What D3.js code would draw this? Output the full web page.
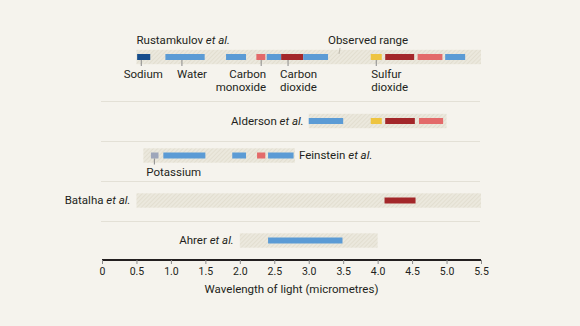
<!DOCTYPE html>
<html lang="en">
<head>
  <meta charset="utf-8">
  <title>Observed wavelength ranges</title>
  <script src="https://d3js.org/d3.v7.min.js"></script>
  <style>
    body { margin: 0; background: #f5f3ed; }
    svg { display: block; font-family: Roboto, "Noto Sans", sans-serif; }
    .lbl { font-size: 11.5px; fill: #231f20; }
    .tick text { font-size: 10.5px; fill: #231f20; font-family: Roboto, sans-serif; }
  </style>
</head>
<body>
<div id="chart"></div>
<script>
  // studies, in drawing order (top to bottom)
  const studies = ["Rustamkulov", "Alderson", "Feinstein", "Batalha", "Ahrer"];
  // observed range of each study (micrometres)
  const rangeStart = [0.5, 3.0, 0.6, 0.5, 2.0];
  const rangeEnd   = [5.5, 5.0, 2.8, 5.5, 4.0];

  // detected features: study, molecule, start, end
  const featStudy = ["Rustamkulov","Rustamkulov","Rustamkulov","Rustamkulov","Rustamkulov","Rustamkulov","Rustamkulov","Rustamkulov","Rustamkulov","Rustamkulov","Rustamkulov",
                     "Alderson","Alderson","Alderson","Alderson",
                     "Feinstein","Feinstein","Feinstein","Feinstein","Feinstein",
                     "Batalha",
                     "Ahrer"];
  const featMol   = ["Na","H2O","H2O","CO","H2O","CO2","H2O","SO2","CO2","CO","H2O",
                     "H2O","SO2","CO2","CO",
                     "K","H2O","H2O","CO","H2O",
                     "CO2",
                     "H2O"];
  const featStart = [0.51, 0.92, 1.80, 2.24, 2.39, 2.60, 2.92, 3.90, 4.11, 4.58, 4.98,
                     3.00, 3.90, 4.11, 4.60,
                     0.71, 0.89, 1.89, 2.25, 2.41,
                     4.10,
                     2.41];
  const featEnd   = [0.70, 1.49, 2.09, 2.37, 2.60, 2.92, 3.28, 4.06, 4.53, 4.94, 5.27,
                     3.50, 4.06, 4.54, 4.95,
                     0.82, 1.50, 2.09, 2.37, 2.78,
                     4.55,
                     3.49];

  // molecule labels (Rustamkulov row and Feinstein row)
  const labelStudy = ["Rustamkulov","Rustamkulov","Rustamkulov","Rustamkulov","Rustamkulov","Feinstein"];
  const labelLines = [["Sodium"], ["Water"], ["Carbon", "monoxide"], ["Carbon", "dioxide"], ["Sulfur", "dioxide"], ["Potassium"]];
  const labelAt    = [0.57, 1.16, 2.31, 2.70, 3.98, 0.76];

  const ticks = [0, 0.5, 1.0, 1.5, 2.0, 2.5, 3.0, 3.5, 4.0, 4.5, 5.0, 5.5];

  const colour = {
    Na: "#174d8c", H2O: "#5b9bd5", CO: "#e36a6a", CO2: "#a3272a", SO2: "#eec440", K: "#9ea6ba"
  };

  const width = 580, height = 326;
  const svg = d3.select("#chart").append("svg")
    .attr("width", width).attr("height", height);

  svg.append("rect").attr("width", width).attr("height", height).attr("fill", "#f5f3ed");

  const defs = svg.append("defs");
  const pat = defs.append("pattern")
    .attr("id", "hatch").attr("patternUnits", "userSpaceOnUse")
    .attr("width", 3).attr("height", 3)
    .attr("patternTransform", "rotate(45)");
  pat.append("rect").attr("width", 3).attr("height", 3).attr("fill", "#ebe8dd");
  pat.append("line").attr("x1", 0).attr("y1", 0).attr("x2", 0).attr("y2", 3)
    .attr("stroke", "#dcd8c8").attr("stroke-width", 1.2);

  const x = d3.scaleLinear().domain([0, 5.5]).range([102, 481]);
  const y = d3.scaleOrdinal().domain(studies).range([57, 121, 155.5, 200.5, 240.5]);

  // separators between rows
  const seps = [101, 141, 181, 221];
  svg.selectAll(".sep").data(seps).enter().append("line")
    .attr("x1", 101).attr("x2", 480)
    .attr("y1", d => d + 0.5).attr("y2", d => d + 0.5)
    .attr("stroke", "#e3e0d6").attr("stroke-width", 1);

  // observed ranges
  svg.selectAll(".range").data(studies).enter().append("rect")
    .attr("x", (d, i) => x(rangeStart[i]))
    .attr("width", (d, i) => x(rangeEnd[i]) - x(rangeStart[i]))
    .attr("y", d => y(d) - 7.2)
    .attr("height", 14.4)
    .attr("fill", "url(#hatch)");

  // features
  const feats = featStudy.map((s, i) => ({ s, m: featMol[i], a: featStart[i], b: featEnd[i] }));
  svg.selectAll(".feat").data(feats).enter().append("rect")
    .attr("x", d => x(d.a))
    .attr("width", d => x(d.b) - x(d.a))
    .attr("y", d => y(d.s) - 3)
    .attr("height", 6)
    .attr("fill", d => colour[d.m]);

  // molecule labels with leader lines
  const anchors = ["middle", "start", "end", "start", "start", "start"];
  const dx = [2, -5, 5, -8, -5, -8];
  labelLines.forEach((lines, i) => {
    const lx = x(labelAt[i]);
    const yc = y(labelStudy[i]);
    svg.append("line")
      .attr("x1", lx).attr("x2", lx)
      .attr("y1", yc + 3).attr("y2", yc + 9)
      .attr("stroke", "#8a8a8a").attr("stroke-width", 1);
    lines.forEach((ln, j) => {
      svg.append("text").attr("class", "lbl")
        .attr("text-anchor", anchors[i])
        .attr("x", lx + dx[i]).attr("y", yc + 20.5 + j * 13)
        .text(ln);
    });
  });

  // "Observed range" callout
  svg.append("line")
    .attr("x1", 340).attr("x2", 339).attr("y1", 48).attr("y2", 54)
    .attr("stroke", "#bdb9ad").attr("stroke-width", 1);
  svg.append("text").attr("class", "lbl")
    .attr("x", 328).attr("y", 44).text("Observed range");

  // study names
  function studyLabel(name, xPos, yPos, anchor) {
    const t = svg.append("text").attr("class", "lbl")
      .attr("x", xPos).attr("y", yPos).attr("text-anchor", anchor);
    t.append("tspan").text(name + " ");
    t.append("tspan").style("font-style", "italic").text("et al.");
  }
  studyLabel("Rustamkulov", 136.5, 44, "start");
  studyLabel("Alderson", x(rangeStart[1]) - 5, y("Alderson") + 3.5, "end");
  studyLabel("Feinstein", x(rangeEnd[2]) + 4, y("Feinstein") + 3.5, "start");
  studyLabel("Batalha", x(rangeStart[3]) - 6, y("Batalha") + 3.5, "end");
  studyLabel("Ahrer", x(rangeStart[4]) - 6, y("Ahrer") + 3.5, "end");

  // axis
  const axis = svg.append("g")
    .attr("transform", "translate(0,260)")
    .call(d3.axisBottom(x).tickValues(ticks).tickSize(4).tickPadding(4)
      .tickFormat(d => d === 0 ? "0" : d3.format(".1f")(d)));
  axis.select(".domain").attr("stroke", "#231f20").attr("stroke-width", 2)
    .attr("d", "M" + x(0) + ",0H" + x(5.5));
  axis.selectAll(".tick line").attr("stroke", "#8a8a8a");

  svg.append("text").attr("class", "lbl")
    .attr("x", x(2.75)).attr("y", 293).attr("text-anchor", "middle")
    .text("Wavelength of light (micrometres)");
</script>
</body>
</html>
